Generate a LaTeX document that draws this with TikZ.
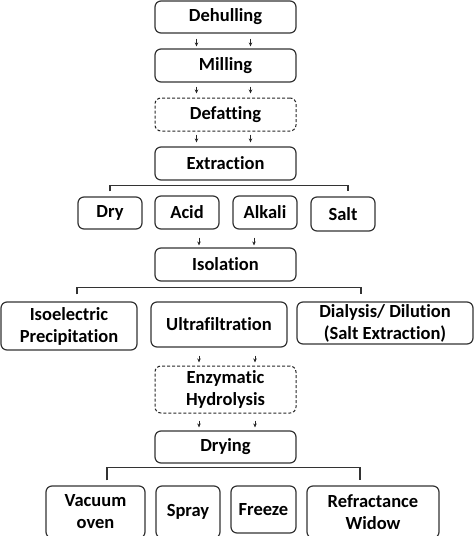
\documentclass[tikz,border=0pt]{standalone}
\usepackage{fontspec}
\setmainfont{Carlito}[Ligatures={NoCommon}]
\usetikzlibrary{arrows.meta}

\begin{document}
\begin{tikzpicture}[x=1pt,y=-1pt]
    \tikzstyle{every node}=[rectangle, rounded corners=6pt, draw=black!80, line width=1.2pt, inner sep=2pt, align=center, font=\bfseries\fontsize{18.5}{22}\selectfont, text=black]
    \tikzstyle{optional}=[densely dashed, draw=black!85, line width=1pt]
    \tikzstyle{arrow}=[black!85, line width=0.8pt, -{Stealth[length=4pt,width=3.5pt]}]
    \tikzstyle{bracket}=[black!80, line width=1.2pt]

    \useasboundingbox (0,0) rectangle (474,536);

    \node[minimum width=141pt, minimum height=32pt] (dehull) at (225.5,17) {Dehulling};
    \node[minimum width=141pt, minimum height=33pt] (mill) at (225.5,65.5) {Milling};
    \node[optional, minimum width=141pt, minimum height=33pt] (defat) at (225.5,114.5) {Defatting};
    \node[minimum width=141pt, minimum height=33pt] (extr) at (225.5,163.5) {Extraction};
    \node[minimum width=64pt, minimum height=32pt] (dry) at (110,213) {Dry};
    \node[minimum width=64pt, minimum height=33pt] (acid) at (187,212.5) {Acid};
    \node[minimum width=64pt, minimum height=33pt] (alkali) at (265,212.5) {Alkali};
    \node[minimum width=64pt, minimum height=34pt] (salt) at (343,214) {Salt};
    \node[minimum width=141pt, minimum height=33pt] (iso) at (225.5,264.5) {Isolation};
    \node[minimum width=136pt, minimum height=48pt] (isoel) at (69,326) {Isoelectric\\Precipitation};
    \node[minimum width=136pt, minimum height=45pt] (ultra) at (219,324.5) {Ultrafiltration};
    \node[minimum width=176pt, minimum height=42pt] (dial) at (385,323) {Dialysis/ Dilution\\(Salt Extraction)};
    \node[optional, minimum width=141pt, minimum height=47pt] (enz) at (225.5,389.5) {Enzymatic\\Hydrolysis};
    \node[minimum width=141pt, minimum height=32pt] (dryg) at (225.5,447) {Drying};
    \node[minimum width=99pt, minimum height=52pt] (vac) at (95.5,512) {Vacuum\\oven};
    \node[minimum width=64pt, minimum height=52pt] (spray) at (188,512) {Spray};
    \node[minimum width=65pt, minimum height=47pt] (freeze) at (263.5,509.5) {Freeze};
    \node[minimum width=132pt, minimum height=52pt] (refr) at (373,512) {Refractance\\Widow};

    \draw[arrow] ([xshift=-29pt,yshift=-5pt]dehull.south) -- ([xshift=-29pt,yshift=2pt]mill.north);
    \draw[arrow] ([xshift=25pt,yshift=-5pt]dehull.south) -- ([xshift=25pt,yshift=2pt]mill.north);
    \draw[arrow] ([xshift=-29pt,yshift=-4pt]mill.south) -- ([xshift=-29pt,yshift=4pt]defat.north);
    \draw[arrow] ([xshift=25pt,yshift=-4pt]mill.south) -- ([xshift=25pt,yshift=4pt]defat.north);
    \draw[arrow] ([xshift=-29pt,yshift=-3pt]defat.south) -- ([xshift=-29pt,yshift=4pt]extr.north);
    \draw[arrow] ([xshift=25pt,yshift=-3pt]defat.south) -- ([xshift=25pt,yshift=4pt]extr.north);
    \draw[bracket] ([yshift=5pt]dry.north) |- ([yshift=-5pt]extr.south) -| ([xshift=5pt,yshift=5pt]salt.north);

    \draw[arrow] ([xshift=12pt,yshift=-8pt]acid.south) -- ([xshift=-26.5pt,yshift=2pt]iso.north);
    \draw[arrow] ([xshift=-11pt,yshift=-8pt]alkali.south) -- ([xshift=28.5pt,yshift=2pt]iso.north);
    \draw[bracket] ([xshift=8pt,yshift=7pt]isoel.north) |- ([yshift=-6pt]iso.south) -| ([xshift=-24pt,yshift=7pt]dial.north);

    \draw[arrow] ([xshift=-20pt,yshift=-8pt]ultra.south) -- ([xshift=-26.5pt,yshift=3pt]enz.north);
    \draw[arrow] ([xshift=36pt,yshift=-8pt]ultra.south) -- ([xshift=29.5pt,yshift=3pt]enz.north);
    \draw[arrow] ([xshift=-26.5pt,yshift=-7pt]enz.south) -- ([xshift=-26.5pt,yshift=3pt]dryg.north);
    \draw[arrow] ([xshift=29.5pt,yshift=-7pt]enz.south) -- ([xshift=29.5pt,yshift=3pt]dryg.north);
    \draw[bracket] ([xshift=11.5pt,yshift=5pt]vac.north) |- ([yshift=-4pt]dryg.south) -| ([xshift=-13pt,yshift=5pt]refr.north);
\end{tikzpicture}
\end{document}
